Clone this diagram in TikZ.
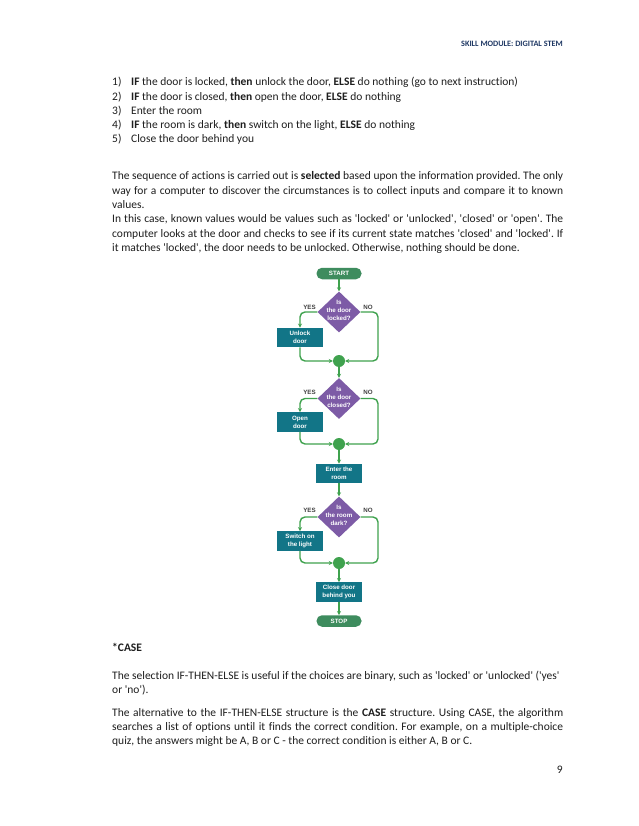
\documentclass[tikz,border=0pt]{standalone}
\usepackage{fontspec}
\setmainfont{Carlito}[Ligatures={TeX,NoCommon}]
\newfontfamily\flowfont{Liberation Sans}
\usetikzlibrary{shapes.geometric,arrows.meta}
\definecolor{lgreen}{HTML}{3FA24E}
\definecolor{pgreen}{HTML}{3E8C5E}
\definecolor{dpurple}{HTML}{7D5BA6}
\definecolor{tealbox}{HTML}{127587}
\definecolor{navy}{HTML}{1F3864}
\definecolor{bodytext}{HTML}{1E1E1E}
\newcommand{\q}{\textquotesingle}
\newcommand{\jline}[1]{\makebox[451pt][s]{#1}}
\frenchspacing
\begin{document}
\begin{tikzpicture}[x=1pt,y=-1pt,
  body/.style={font=\fontsize{11.5}{14}\selectfont, inner sep=0, anchor=base west, text=bodytext},
  header/.style={font=\fontsize{8.2}{9}\selectfont\bfseries, inner sep=0, anchor=base east, text=navy},
  flowtxt/.style={font=\flowfont\bfseries\fontsize{6.2}{8}\selectfont, text=white, align=center},
  pill/.style={flowtxt, fill=pgreen, rounded corners=5.5pt, minimum width=45pt, minimum height=11.5pt, inner sep=0},
  proc/.style={flowtxt, fill=tealbox, minimum width=46pt, minimum height=19.5pt, inner sep=0},
  decision/.style={diamond, fill=dpurple, minimum width=43pt, minimum height=41pt, inner sep=0},
  dtext/.style={flowtxt, inner sep=0},
  yesno/.style={font=\flowfont\bfseries\fontsize{6.2}{8}\selectfont, text=black!75, inner sep=0},
  junc/.style={circle, fill=lgreen, minimum size=12pt, inner sep=0},
  flow/.style={draw=lgreen, line width=1.4pt, rounded corners=5pt, -{Stealth[length=4pt,width=4pt]}}
]
\useasboundingbox[fill=white] (0,0) rectangle (638,826);

% header
\node[header] (hdr) at (563,46.5) {SKILL MODULE: DIGITAL STEM};

% list
\foreach \n/\yy in {1/86,2/100.1,3/114.2,4/128.3,5/142.4} {
  \node[body] (num\n) at (112,\yy) {\n)};
}
\node[body] (l1) at (131,86) {\textbf{IF} the door is locked, \textbf{then} unlock the door, \textbf{ELSE} do nothing (go to next instruction)};
\node[body] (l2) at (131,100.1) {\textbf{IF} the door is closed, \textbf{then} open the door, \textbf{ELSE} do nothing};
\node[body] (l3) at (131,114.2) {Enter the room};
\node[body] (l4) at (131,128.3) {\textbf{IF} the room is dark, \textbf{then} switch on the light, \textbf{ELSE} do nothing};
\node[body] (l5) at (131,142.4) {Close the door behind you};

% paragraph
\node[body] (p1) at (112,180) {\jline{The sequence of actions is carried out is \textbf{selected} based upon the information provided. The only}};
\node[body] (p2) at (112,194.3) {\jline{way for a computer to discover the circumstances is to collect inputs and compare it to known}};
\node[body] (p3) at (112,208.6) {values.};
\node[body] (p4) at (112,222.9) {\jline{In this case, known values would be values such as \q locked\q{} or \q unlocked\q, \q closed\q{} or \q open\q. The}};
\node[body] (p5) at (112,237.2) {\jline{computer looks at the door and checks to see if its current state matches \q closed\q{} and \q locked\q. If}};
\node[body] (p6) at (112,251.5) {it matches \q locked\q, the door needs to be unlocked. Otherwise, nothing should be done.};

% flowchart
\node[pill] (start) at (339,273.5) {START};

\node[decision] (d1) at (339,312) {};
\node[dtext] (d1t) at (339,310.5) {Is\\the door\\locked?};
\node[yesno] (y1) at (309.5,307) {YES};
\node[yesno] (n1) at (368,307) {NO};
\node[proc] (b1) at (300,337.5) {Unlock\\door};
\node[junc] (j1) at (339,361) {};
\coordinate (r1) at (378,361);

\node[decision] (d2) at (339,398.5) {};
\node[dtext] (d2t) at (339,397) {Is\\the door\\closed?};
\node[yesno] (y2) at (309.5,392) {YES};
\node[yesno] (n2) at (368,392) {NO};
\node[proc] (b2) at (300,422) {Open\\door};
\node[junc] (j2) at (339,444) {};
\coordinate (r2) at (378,444);

\node[proc] (enter) at (339,473.5) {Enter the\\room};

\node[decision] (d3) at (339,517) {};
\node[dtext] (d3t) at (339,515.5) {Is\\the room\\dark?};
\node[yesno] (y3) at (309.5,510) {YES};
\node[yesno] (n3) at (368,510) {NO};
\node[proc] (b3) at (300,541) {Switch on\\the light};
\node[junc] (j3) at (339,563) {};
\coordinate (r3) at (378,563);

\node[proc] (close) at (339,592) {Close door\\behind you};
\node[pill] (stop) at (339,621) {STOP};

\draw[flow] (start) -- (d1);
\draw[flow] (d1.west) -| (b1.north);
\draw[flow] (b1.south) |- (j1.west);
\draw[flow] (d1.east) -| (r1) -- (j1.east);
\draw[flow] (j1) -- (d2);

\draw[flow] (d2.west) -| (b2.north);
\draw[flow] (b2.south) |- (j2.west);
\draw[flow] (d2.east) -| (r2) -- (j2.east);
\draw[flow] (j2) -- (enter);
\draw[flow] (enter) -- (d3);

\draw[flow] (d3.west) -| (b3.north);
\draw[flow] (b3.south) |- (j3.west);
\draw[flow] (d3.east) -| (r3) -- (j3.east);
\draw[flow] (j3) -- (close);
\draw[flow] (close) -- (stop);

% bottom text
\node[body] (case) at (112,651) {\textbf{*CASE}};
\node[body] (s1) at (112,679) {The selection IF-THEN-ELSE is useful if the choices are binary, such as \q locked\q{} or \q unlocked\q{} (\q yes\q};
\node[body] (s2) at (112,693.3) {or \q no\q).};
\node[body] (a1) at (112,716) {\jline{The alternative to the IF-THEN-ELSE structure is the \textbf{CASE} structure. Using CASE, the algorithm}};
\node[body] (a2) at (112,730.3) {\jline{searches a list of options until it finds the correct condition. For example, on a multiple-choice}};
\node[body] (a3) at (112,744.6) {quiz, the answers might be A, B or C - the correct condition is either A, B or C.};
\node[body, anchor=base east] (pg) at (563,773) {9};
\end{tikzpicture}
\end{document}
